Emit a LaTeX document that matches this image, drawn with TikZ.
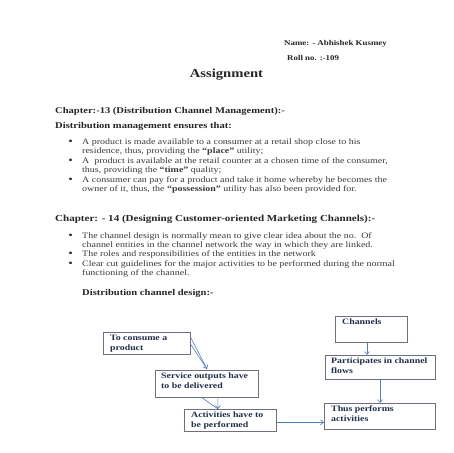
\documentclass[tikz,border=0pt]{standalone}
\usepackage{fontspec}
\setmainfont[FakeStretch=1.2]{Liberation Serif}
\usetikzlibrary{arrows.meta}
\definecolor{bodytxt}{HTML}{3A3A3A}
\definecolor{navy}{HTML}{1F2E4A}
\definecolor{arrowblue}{HTML}{4F7FBF}
\definecolor{boxline}{HTML}{6E7080}
\tikzset{
  txt/.style={anchor=base west, inner sep=0pt, text=bodytxt, font=\fontsize{8.3}{9}\selectfont},
  head/.style={anchor=base west, inner sep=0pt, text=black!85, font=\bfseries\fontsize{8.8}{10}\selectfont},
  smallhead/.style={anchor=base west, inner sep=0pt, text=black!85, font=\bfseries\fontsize{7.4}{10}\selectfont},
  bul/.style={anchor=base west, inner sep=0pt, text=black!80, font=\bfseries\fontsize{9.5}{9}\selectfont},
  boxc/.style={draw=boxline, line width=0.6pt, anchor=north west, inner sep=0pt},
  boxtxt/.style={anchor=north west, inner sep=0pt, text=navy, align=left, font=\bfseries\fontsize{8.2}{10}\selectfont},
  conn/.style={draw=arrowblue, line width=0.6pt, -{Straight Barb[length=3pt,width=5pt]}},
  connplain/.style={draw=arrowblue, line width=0.6pt},
}
\begin{document}
\begin{tikzpicture}[x=1pt,y=-1pt]
\useasboundingbox[fill=white] (0,0) rectangle (453,453);

\node[smallhead] (name) at (284,45) {Name: - Abhishek Kusmey};
\node[smallhead] (roll) at (287,60) {Roll no. :-109};
\node[anchor=base, inner sep=0pt, text=black!85, font=\bfseries\fontsize{12.2}{14}\selectfont] (title) at (226.5,77) {Assignment};

\node[head] (ch13) at (55,113) {Chapter:-13 (Distribution Channel Management):-};
\node[head] (dm) at (55,128) {Distribution management ensures that:};

\node[bul] (b1) at (68.5,144) {•};
\node[txt] (l1a) at (82,144) {A product is made available to a consumer at a retail shop close to his};
\node[txt] (l1b) at (82,153) {residence, thus, providing the \textbf{“place”} utility;};
\node[bul] (b2) at (68.5,163) {•};
\node[txt] (l2a) at (82,163) {A\ \ product is available at the retail counter at a chosen time of the consumer,};
\node[txt] (l2b) at (82,172) {thus, providing the \textbf{“time”} quality;};
\node[bul] (b3) at (68.5,182) {•};
\node[txt] (l3a) at (82,182) {A consumer can pay for a product and take it home whereby he becomes the};
\node[txt] (l3b) at (82,191) {owner of it, thus, the \textbf{“possession”} utility has also been provided for.};

\node[head, font=\bfseries\fontsize{9.2}{10}\selectfont] (ch14) at (55,221) {Chapter: - 14 (Designing Customer-oriented Marketing Channels):-};

\node[bul] (c1) at (68.5,238) {•};
\node[txt] (m1a) at (82,238) {The channel design is normally mean to give clear idea about the no.\ \ Of};
\node[txt] (m1b) at (82,247) {channel entities in the channel network the way in which they are linked.};
\node[bul] (c2) at (68.5,256) {•};
\node[txt] (m2) at (82,256) {The roles and responsibilities of the entities in the network};
\node[bul] (c3) at (68.5,266) {•};
\node[txt] (m3a) at (82,266) {Clear cut guidelines for the major activities to be performed during the normal};
\node[txt] (m3b) at (82,275) {functioning of the channel.};

\node[head] (dcd) at (82,295) {Distribution channel design:-};

% boxes
\node[boxc, minimum width=87pt, minimum height=22pt] (cons) at (103,332) {};
\node[boxtxt] at (110,335) {To consume a\\product};

\node[boxc, minimum width=103pt, minimum height=27pt] (serv) at (155,370) {};
\node[boxtxt] at (161,373) {Service outputs have\\to be delivered};

\node[boxc, minimum width=92pt, minimum height=22pt] (act) at (184,409) {};
\node[boxtxt] at (191,412) {Activities have to\\be performed};

\node[boxc, minimum width=72pt, minimum height=26pt] (chan) at (335,316) {};
\node[boxtxt] at (342,319) {Channels};

\node[boxc, minimum width=110pt, minimum height=24pt] (part) at (325,355) {};
\node[boxtxt] at (331,358) {Participates in channel\\flows};

\node[boxc, minimum width=111pt, minimum height=26pt] (thus) at (324,403) {};
\node[boxtxt] at (331,406) {Thus performs\\activities};

% connectors
\coordinate (sv1) at (207,369);
\draw[connplain] ([yshift=-1pt]cons.east) -- (sv1);
\draw[conn] ([yshift=6pt]cons.east) -- (sv1);

\coordinate (ac1) at (218,409);
\draw[connplain] ([xshift=-5pt]serv.south) -- (ac1);
\draw[conn] ([xshift=11pt]serv.south) -- (ac1);

\draw[conn] (chan.south -| 367,0) -- (part.north -| 367,0);
\draw[conn] (part.south -| 380,0) -- (thus.north -| 380,0);
\coordinate (actout) at ([yshift=-2pt]act.east);
\draw[conn] (actout) -- (thus.west |- actout);
\end{tikzpicture}
\end{document}
